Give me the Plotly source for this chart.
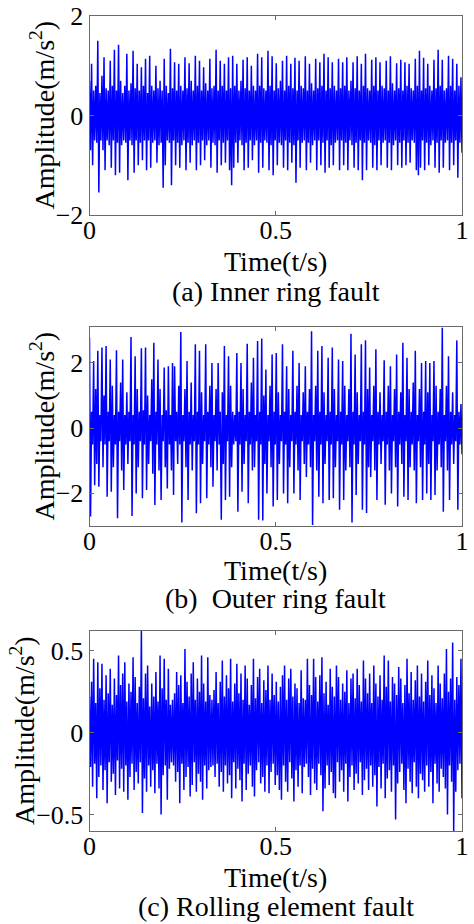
import numpy as np
import plotly.graph_objects as go

# ---- data: per-column positive / negative excursions ----
inner_pos = [0.7, 1.04, 0.5, 0.6, 1.5, 0.45, 0.8, 1.17, 0.55, 0.5,
             1.1, 0.6, 1.32, 0.5, 1.42, 0.7, 0.45, 0.6, 1.24, 0.5,
             0.65, 1.3, 0.55, 1.04, 0.5, 0.97, 0.6, 1.14, 0.45, 1.2,
             0.6, 0.5, 1.0, 0.55, 0.7, 0.5, 1.14, 0.6, 0.45, 1.34,
             0.55, 1.07, 0.5, 1.04, 0.6, 0.5, 1.17, 0.55, 1.05, 0.7,
             0.5, 1.2, 0.6, 1.1, 0.5, 0.97, 0.65, 0.5, 1.14, 0.55,
             0.6, 1.32, 0.5, 1.1, 0.6, 1.04, 0.5, 1.17, 0.55, 1.2,
             0.6, 1.04, 0.5, 0.7, 1.12, 0.55, 1.17, 0.5, 1.0, 0.6,
             0.5, 1.24, 0.6, 1.17, 0.55, 0.5, 1.3, 0.6, 1.19, 0.5,
             1.05, 0.55, 0.7, 1.1, 0.5, 1.2, 0.6, 1.04, 0.55, 1.16,
             0.5, 1.1, 0.6, 0.55, 1.19, 0.5, 1.04, 0.65, 0.5, 1.14,
             0.55, 1.07, 0.6, 1.24, 0.5, 1.17, 0.55, 1.07, 0.6, 0.5,
             1.14, 0.55, 1.07, 0.6, 1.17, 0.5, 0.7, 1.07, 0.55, 1.19,
             0.5, 1.04, 0.6, 1.24, 0.55, 0.5, 1.12, 0.6, 1.17, 0.5,
             1.07, 0.6, 0.55, 1.1, 0.5, 1.19, 0.65, 0.5, 1.05, 0.55,
             1.12, 0.5, 1.07, 0.6, 1.04, 0.55, 0.5, 1.14, 0.6, 1.3,
             0.5, 1.16, 0.55, 1.04, 0.6, 0.5, 1.12, 0.55, 1.32, 0.6,
             1.12, 0.5, 0.55, 1.2, 0.6, 1.14, 0.5, 1.04, 0.6, 0.77]
inner_neg = [-0.7, -1.0, -0.5, -0.55, -1.55, -0.5, -0.7, -1.1, -0.5, -0.6,
             -1.05, -0.5, -1.2, -0.55, -1.15, -0.6, -0.5, -0.55, -1.3, -0.5,
             -0.6, -1.15, -0.5, -1.0, -0.55, -0.9, -0.5, -1.1, -0.5, -1.05,
             -0.55, -0.5, -0.95, -0.6, -0.55, -1.45, -1.0, -0.5, -0.55, -1.4,
             -0.5, -1.0, -0.55, -1.05, -0.6, -0.5, -1.1, -0.55, -0.95, -0.6,
             -0.5, -1.1, -0.55, -1.0, -0.5, -0.9, -0.6, -0.5, -1.05, -0.55,
             -0.6, -1.15, -0.5, -1.0, -0.55, -0.95, -0.5, -1.1, -1.4, -1.05,
             -0.55, -0.95, -0.5, -0.6, -1.1, -0.55, -1.05, -0.5, -0.9, -0.6,
             -0.5, -1.15, -0.55, -1.05, -0.5, -0.55, -1.1, -0.6, -1.2, -0.5,
             -1.0, -0.55, -0.6, -1.05, -0.5, -1.1, -0.55, -0.95, -0.6, -1.35,
             -0.5, -1.05, -0.55, -0.5, -1.1, -0.55, -0.95, -0.6, -0.5, -1.1,
             -0.5, -1.0, -0.55, -1.15, -0.5, -1.05, -0.6, -1.0, -0.55, -0.5,
             -1.1, -0.5, -1.0, -0.55, -1.1, -0.5, -0.6, -1.05, -0.55, -1.1,
             -0.5, -1.3, -0.55, -1.1, -0.5, -0.55, -1.05, -0.6, -1.1, -0.5,
             -1.0, -0.55, -0.5, -1.05, -0.55, -1.1, -0.6, -0.5, -1.0, -0.55,
             -1.05, -0.5, -1.0, -0.55, -0.95, -0.5, -0.55, -1.1, -1.2, -1.05,
             -0.5, -1.1, -0.55, -1.0, -0.6, -0.5, -1.05, -0.55, -1.15, -0.5,
             -1.05, -0.55, -0.5, -1.1, -0.55, -1.0, -0.5, -1.25, -0.55, -0.75]

outer_pos = [2.77, 0.5, 2.06, 1.2, 2.37, 0.4, 2.47, 1.0, 2.52, 0.5,
             2.1, 1.3, 0.4, 2.39, 0.5, 1.4, 2.1, 0.4, 1.1, 0.5,
             2.79, 0.4, 2.2, 1.2, 0.5, 2.45, 0.55, 2.47, 1.0, 0.4,
             1.5, 2.62, 0.5, 2.1, 1.2, 0.4, 1.86, 0.55, 1.9, 0.4,
             2.0, 1.9, 0.5, 1.3, 2.95, 0.4, 1.2, 2.06, 0.5, 1.4,
             0.4, 2.57, 0.5, 2.37, 1.1, 0.4, 2.57, 0.5, 1.3, 2.0,
             0.4, 1.2, 2.0, 0.5, 1.1, 2.52, 0.4, 2.2, 1.3, 0.5,
             0.4, 2.3, 0.5, 2.0, 1.2, 0.4, 2.59, 0.5, 1.4, 2.16,
             0.4, 2.67, 0.5, 2.75, 1.0, 1.8, 0.4, 1.3, 2.26, 0.5,
             2.3, 1.1, 0.4, 2.57, 0.5, 1.9, 1.2, 0.4, 2.37, 0.5,
             1.3, 2.0, 0.4, 1.1, 1.9, 0.5, 1.2, 2.97, 0.4, 1.3,
             2.37, 0.5, 2.52, 1.1, 0.4, 2.16, 0.5, 2.47, 1.2, 0.4,
             2.1, 0.5, 2.06, 1.3, 0.4, 1.2, 2.89, 0.5, 2.26, 1.1,
             0.4, 2.57, 0.5, 2.69, 1.2, 1.86, 0.4, 1.3, 2.42, 0.5,
             1.1, 0.4, 2.08, 0.5, 1.3, 1.9, 0.4, 1.2, 2.26, 0.5,
             1.1, 2.62, 0.4, 2.16, 1.2, 0.5, 1.4, 2.37, 0.4, 1.2,
             2.0, 0.5, 2.06, 1.1, 2.0, 0.4, 2.06, 1.3, 0.5, 1.2,
             3.08, 0.4, 1.3, 2.2, 0.5, 1.1, 0.4, 2.69, 0.5, 0.74]
outer_neg = [-2.71, -0.5, -1.75, -1.1, -1.8, -0.4, -1.2, -0.5, -2.1, -0.4,
             -1.95, -1.2, -0.5, -2.76, -0.4, -1.3, -1.9, -0.5, -1.1, -0.4,
             -2.69, -0.5, -2.0, -1.2, -0.4, -2.15, -0.5, -1.9, -1.1, -0.4,
             -1.4, -2.36, -0.5, -1.3, -2.2, -0.4, -1.2, -1.85, -0.5, -1.3,
             -2.05, -0.4, -1.1, -0.5, -2.89, -0.4, -1.2, -2.2, -0.5, -1.3,
             -0.4, -2.61, -0.5, -2.3, -1.1, -0.4, -2.15, -0.5, -1.2, -1.8,
             -0.4, -1.3, -0.5, -2.81, -1.1, -2.2, -0.4, -2.1, -1.2, -0.5,
             -0.4, -2.56, -0.5, -1.95, -1.1, -0.4, -2.3, -0.5, -1.3, -1.2,
             -0.4, -2.81, -0.5, -2.83, -1.1, -2.0, -0.4, -1.2, -2.4, -0.5,
             -2.2, -1.1, -0.4, -2.0, -0.5, -2.3, -1.2, -0.4, -2.0, -0.5,
             -1.3, -2.2, -0.4, -1.1, -1.5, -0.5, -1.2, -2.97, -0.4, -1.3,
             -2.1, -0.5, -2.3, -1.1, -0.4, -2.2, -0.5, -2.15, -1.2, -0.4,
             -2.5, -0.5, -2.2, -1.3, -0.4, -1.2, -2.89, -0.5, -2.05, -1.1,
             -0.4, -2.5, -0.5, -2.6, -1.2, -1.5, -0.4, -1.3, -2.2, -0.5,
             -1.1, -0.4, -2.35, -0.5, -1.3, -2.0, -0.4, -1.2, -2.4, -0.5,
             -1.1, -2.1, -0.4, -2.2, -1.2, -0.5, -1.3, -2.3, -0.4, -1.2,
             -2.2, -0.5, -2.0, -1.1, -2.2, -0.4, -2.05, -1.3, -0.5, -1.2,
             -2.56, -0.4, -1.3, -2.2, -0.5, -1.1, -0.4, -2.5, -0.5, -0.8]

rolling_pos = [0.22, 0.31, 0.45, 0.18, 0.43, 0.27, 0.42, 0.2, 0.35, 0.24,
               0.39, 0.17, 0.33, 0.23, 0.47, 0.29, 0.36, 0.43, 0.19, 0.3,
               0.25, 0.46, 0.34, 0.18, 0.28, 0.62, 0.21, 0.36, 0.41, 0.16,
               0.3, 0.22, 0.37, 0.19, 0.47, 0.27, 0.45, 0.2, 0.39, 0.17,
               0.2, 0.24, 0.37, 0.29, 0.35, 0.18, 0.51, 0.31, 0.22, 0.36,
               0.43, 0.2, 0.33, 0.25, 0.47, 0.3, 0.19, 0.46, 0.23, 0.2,
               0.26, 0.37, 0.18, 0.31, 0.44, 0.22, 0.35, 0.27, 0.45, 0.19,
               0.3, 0.42, 0.24, 0.36, 0.2, 0.41, 0.33, 0.17, 0.29, 0.45,
               0.21, 0.34, 0.39, 0.18, 0.32, 0.26, 0.41, 0.2, 0.36, 0.23,
               0.31, 0.19, 0.28, 0.35, 0.41, 0.2, 0.33, 0.39, 0.22, 0.3,
               0.27, 0.18, 0.38, 0.21, 0.2, 0.45, 0.29, 0.23, 0.45, 0.34,
               0.19, 0.35, 0.46, 0.24, 0.31, 0.17, 0.39, 0.28, 0.22, 0.41,
               0.34, 0.2, 0.3, 0.25, 0.38, 0.18, 0.33, 0.36, 0.21, 0.39,
               0.29, 0.19, 0.44, 0.33, 0.24, 0.36, 0.18, 0.41, 0.3, 0.22,
               0.35, 0.2, 0.47, 0.28, 0.44, 0.19, 0.34, 0.3, 0.23, 0.4,
               0.33, 0.18, 0.29, 0.45, 0.24, 0.37, 0.2, 0.32, 0.41, 0.22,
               0.36, 0.19, 0.31, 0.44, 0.23, 0.35, 0.27, 0.18, 0.41, 0.3,
               0.21, 0.36, 0.51, 0.25, 0.33, 0.55, 0.2, 0.34, 0.29, 0.45]
rolling_neg = [-0.21, -0.33, -0.19, -0.4, -0.27, -0.2, -0.35, -0.23, -0.43, -0.18,
               -0.3, -0.25, -0.38, -0.17, -0.34, -0.22, -0.36, -0.2, -0.41, -0.27,
               -0.19, -0.35, -0.24, -0.31, -0.18, -0.49, -0.28, -0.36, -0.2, -0.33,
               -0.23, -0.37, -0.19, -0.34, -0.5, -0.26, -0.2, -0.41, -0.22, -0.18,
               -0.2, -0.3, -0.24, -0.43, -0.19, -0.35, -0.27, -0.21, -0.39, -0.32,
               -0.18, -0.36, -0.25, -0.3, -0.41, -0.2, -0.34, -0.23, -0.21, -0.2,
               -0.27, -0.19, -0.33, -0.24, -0.36, -0.2, -0.31, -0.26, -0.4, -0.18,
               -0.34, -0.22, -0.29, -0.42, -0.19, -0.35, -0.25, -0.2, -0.33, -0.39,
               -0.23, -0.18, -0.31, -0.27, -0.36, -0.2, -0.37, -0.24, -0.19, -0.32,
               -0.26, -0.35, -0.41, -0.2, -0.3, -0.36, -0.18, -0.28, -0.42, -0.23,
               -0.33, -0.2, -0.37, -0.21, -0.19, -0.27, -0.38, -0.22, -0.31, -0.35,
               -0.19, -0.26, -0.48, -0.34, -0.2, -0.32, -0.24, -0.37, -0.4, -0.18,
               -0.3, -0.23, -0.36, -0.19, -0.42, -0.27, -0.2, -0.35, -0.25, -0.31,
               -0.18, -0.38, -0.29, -0.22, -0.35, -0.2, -0.33, -0.26, -0.45, -0.21,
               -0.34, -0.19, -0.4, -0.28, -0.23, -0.36, -0.2, -0.53, -0.31, -0.24,
               -0.19, -0.35, -0.43, -0.22, -0.3, -0.37, -0.18, -0.33, -0.4, -0.25,
               -0.29, -0.36, -0.2, -0.33, -0.24, -0.43, -0.19, -0.31, -0.36, -0.22,
               -0.27, -0.34, -0.5, -0.2, -0.3, -0.6, -0.36, -0.23, -0.19, -0.4]

x_tickvals = [0, 0.5, 1]
x_ticktext = ["0", "0.5", "1"]
captions = ["(a) Inner ring fault", "(b)  Outer ring fault", "(c) Rolling element fault"]
y_ticks = [[-2, 0, 2], [-2, 0, 2], [-0.5, 0, 0.5]]
y_ticktext = [["\u22122", "0", "2"], ["\u22122", "0", "2"], ["\u22120.5", "0", "0.5"]]
y_ranges = [[-2, 2], [-3.0, 3.1], [-0.6, 0.62]]


def interleave(pos, neg):
    out = []
    for p, n in zip(pos, neg):
        out.extend([p, n])
    return out


signals = [interleave(inner_pos, inner_neg),
           interleave(outer_pos, outer_neg),
           interleave(rolling_pos, rolling_neg)]

H = 924.0
W = 474.0
FONT = "Liberation Serif, Times New Roman, serif"
boxes = [(16, 215), (327, 526), (631, 831)]
x_dom = [89.5 / W, 462 / W]
ytitle_x = [43, 43, 22]
time_y = [261, 570, 877]
cap_y = [291, 598, 906]

fig = go.Figure()
annotations = []
for i, sig in enumerate(signals):
    k = "" if i == 0 else str(i + 1)
    t = np.linspace(0, 1, len(sig))
    fig.add_trace(go.Scatter(x=t, y=sig, mode="lines",
                             line=dict(color="#0000ff", width=1.5),
                             xaxis="x" + k, yaxis="y" + k,
                             showlegend=False, hoverinfo="skip"))
    top, bot = boxes[i]
    axcommon = dict(showline=True, linecolor="#6a6a6a", linewidth=1,
                    mirror="ticks", ticks="inside", ticklen=4,
                    tickcolor="#6a6a6a", showgrid=False, zeroline=False,
                    automargin=False,
                    tickfont=dict(family=FONT, size=26, color="black"))
    fig.update_layout(**{
        "xaxis" + k: dict(domain=x_dom, range=[0, 1], anchor="y" + k,
                          tickvals=x_tickvals, ticktext=x_ticktext,
                          ticklabelstandoff=-8, **axcommon),
        "yaxis" + k: dict(domain=[1 - bot / H, 1 - top / H], range=y_ranges[i],
                          anchor="x" + k, tickvals=y_ticks[i],
                          ticktext=y_ticktext[i], **axcommon),
    })
    cx = (x_dom[0] + x_dom[1]) / 2
    annotations.append(dict(text="Time(t/s)", x=cx, y=1 - time_y[i] / H,
                            xref="paper", yref="paper", showarrow=False,
                            xanchor="center", yanchor="middle",
                            font=dict(family=FONT, size=28, color="black")))
    annotations.append(dict(text=captions[i], x=cx, y=1 - cap_y[i] / H,
                            xref="paper", yref="paper", showarrow=False,
                            xanchor="center", yanchor="middle",
                            font=dict(family=FONT, size=28, color="black")))
    annotations.append(dict(text="Amplitude(m/s<sup>2</sup>)",
                            x=ytitle_x[i] / W, y=1 - (top + bot) / 2 / H,
                            xref="paper", yref="paper", showarrow=False,
                            textangle=-90, xanchor="center", yanchor="middle",
                            font=dict(family=FONT, size=28, color="black")))

fig.update_layout(width=474, height=924, margin=dict(l=0, r=0, t=0, b=0),
                  paper_bgcolor="white", plot_bgcolor="white",
                  annotations=annotations)
fig.write_html("out.html", config={"displayModeBar": False},
               post_script="document.body.style.margin='0px';"
                           "document.body.style.overflow='hidden';")
